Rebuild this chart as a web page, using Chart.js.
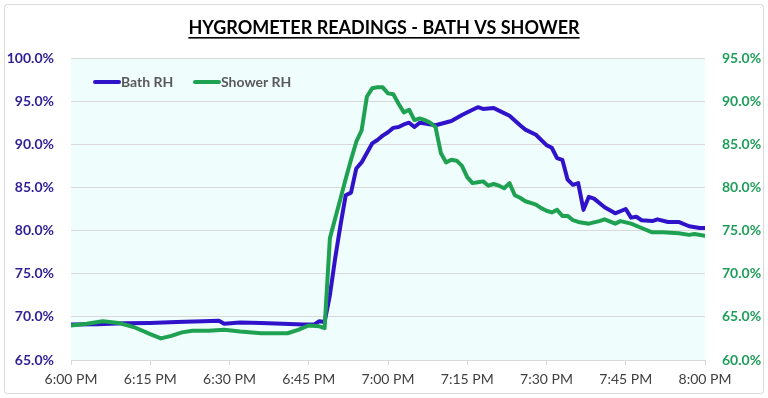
<!DOCTYPE html>
<html>
<head>
<meta charset="utf-8">
<title>Hygrometer readings - bath vs shower</title>
<script src="https://cdn.jsdelivr.net/npm/chart.js@4.4.1/dist/chart.umd.min.js"></script>
<style>
    html, body { margin: 0; padding: 0; background: #fff; }
    #wrap { width: 768px; height: 398px; }
</style>
</head>
<body>
<div id="wrap"><canvas id="chart" width="768" height="398"></canvas></div>
<script>
/* ---- Data (minutes after 6:00 PM, relative humidity %) ---- */
const bathMinutes = [0, 5, 10, 15, 20, 25, 28, 29, 32, 36, 40, 44, 46, 47, 48,
    49, 50, 51, 52, 53, 54, 55, 56, 57, 58, 59, 60, 61, 62, 63, 64, 65, 66, 67,
    69, 72, 74, 76, 77, 78, 80, 81, 83, 85, 86, 88, 90, 91, 92,
    93, 94, 95, 96, 97, 98, 99, 101, 103, 105, 106, 107, 108, 110, 111, 113, 115, 117, 119, 120];
const bathRH = [69.1, 69.15, 69.25, 69.3, 69.4, 69.5, 69.55, 69.2, 69.35, 69.3, 69.2, 69.1, 69.1, 69.5, 69.4,
    72.5, 76.8, 80.6, 84.1, 84.4, 87.2, 87.9, 89.0, 90.1, 90.5, 91.0, 91.4, 91.9, 92.0, 92.3, 92.5, 92.0, 92.5, 92.4,
    92.2, 92.7, 93.4, 94.0, 94.3, 94.1, 94.2, 93.9, 93.3, 92.2, 91.7, 91.1, 89.9, 89.6, 88.4,
    88.2, 85.9, 85.3, 85.5, 82.4, 83.9, 83.7, 82.7, 82.0, 82.5, 81.5, 81.6, 81.2, 81.1, 81.3, 81.0, 81.0, 80.5, 80.3, 80.3];

const showerMinutes = [0, 3, 6, 9, 12, 15, 17, 19, 21, 23, 26, 29, 32, 36, 41, 43, 45, 47, 48,
    49, 50, 51, 52, 53, 54, 55, 56, 57, 58, 59, 60, 61, 62, 63, 64, 65, 66, 67, 68, 69,
    70, 71, 72, 73, 74, 75, 76, 77, 78, 79, 80, 81, 82, 83, 84, 85, 86, 87, 88, 89, 90, 91, 92, 93, 94, 95, 96,
    98, 100, 101, 103, 104, 106, 108, 110, 112, 115, 117, 118, 120];
const showerRH = [64.0, 64.2, 64.5, 64.3, 63.8, 63.0, 62.5, 62.8, 63.2, 63.4, 63.4, 63.5, 63.3, 63.1, 63.1, 63.5, 64.0, 63.9, 63.7,
    74.1, 76.4, 78.7, 81.0, 83.2, 85.3, 86.6, 90.5, 91.5, 91.6, 91.6, 90.9, 90.8, 89.7, 88.7, 89.0, 87.8, 88.0, 87.8, 87.5, 87.0,
    84.0, 82.9, 83.2, 83.1, 82.5, 81.2, 80.5, 80.6, 80.7, 80.2, 80.4, 80.2, 79.9, 80.5, 79.1, 78.8, 78.4, 78.2, 78.0, 77.6, 77.3, 77.1, 77.4, 76.7, 76.7, 76.2, 76.0,
    75.8, 76.1, 76.3, 75.8, 76.1, 75.8, 75.3, 74.8, 74.8, 74.7, 74.5, 74.6, 74.4];

const xTickMinutes = [0, 15, 30, 45, 60, 75, 90, 105, 120];
const xTickLabels = ['6:00 PM', '6:15 PM', '6:30 PM', '6:45 PM', '7:00 PM', '7:15 PM', '7:30 PM', '7:45 PM', '8:00 PM'];
const leftTicks = [65, 70, 75, 80, 85, 90, 95, 100];
const rightTicks = [60, 65, 70, 75, 80, 85, 90, 95];

const chartTitle = 'HYGROMETER READINGS - BATH VS SHOWER';
const BATH_COLOR = '#3012CB';
const SHOWER_COLOR = '#1FA152';
const FONT = 'Lato';

/* ---- Background, frame, title and in-plot legend ---- */
const decor = {
    id: 'decor',
    beforeDraw(chart) {
        const { ctx, chartArea: a } = chart;
        ctx.save();
        ctx.fillStyle = '#fff';
        ctx.fillRect(0, 0, chart.width, chart.height);
        ctx.fillStyle = '#EFFDFD';
        ctx.fillRect(a.left, a.top, a.right - a.left, a.bottom - a.top);

        ctx.strokeStyle = '#D9D9D9';
        ctx.lineWidth = 1;
        ctx.beginPath();
        ctx.roundRect(4.5, 4.5, chart.width - 9, chart.height - 9, 3);
        ctx.stroke();

        // title, underlined like the Excel original
        ctx.font = `bold 18px ${FONT}`;
        ctx.fillStyle = '#000';
        ctx.textAlign = 'center';
        ctx.textBaseline = 'alphabetic';
        ctx.fillText(chartTitle, chart.width / 2, 34);
        const w = ctx.measureText(chartTitle).width;
        ctx.fillRect(chart.width / 2 - w / 2, 37, w, 1.6);
        ctx.restore();
    },
    afterDatasetsDraw(chart) {
        const { ctx } = chart;
        const items = [
            { x: 95, ds: chart.data.datasets[0] },
            { x: 195, ds: chart.data.datasets[1] }
        ];
        ctx.save();
        ctx.font = `bold 14px ${FONT}`;
        ctx.textBaseline = 'middle';
        ctx.textAlign = 'left';
        items.forEach(it => {
            ctx.strokeStyle = it.ds.borderColor;
            ctx.lineWidth = 4;
            ctx.lineCap = 'round';
            ctx.beginPath();
            ctx.moveTo(it.x, 82);
            ctx.lineTo(it.x + 24, 82);
            ctx.stroke();
            ctx.fillStyle = '#595959';
            ctx.fillText(it.ds.label, it.x + 26, 82);
        });
        ctx.restore();
    }
};

function toPoints(xs, ys) {
    return xs.map((x, i) => ({ x: x, y: ys[i] }));
}

new Chart(document.getElementById('chart'), {
    type: 'line',
    data: {
        datasets: [
            {
                label: 'Bath RH',
                data: toPoints(bathMinutes, bathRH),
                yAxisID: 'y',
                borderColor: BATH_COLOR,
                backgroundColor: BATH_COLOR,
                borderWidth: 4,
                pointRadius: 0,
                borderJoinStyle: 'round',
                borderCapStyle: 'round',
                order: 1
            },
            {
                label: 'Shower RH',
                data: toPoints(showerMinutes, showerRH),
                yAxisID: 'y2',
                borderColor: SHOWER_COLOR,
                backgroundColor: SHOWER_COLOR,
                borderWidth: 4,
                pointRadius: 0,
                borderJoinStyle: 'round',
                borderCapStyle: 'round',
                order: 0
            }
        ]
    },
    options: {
        responsive: false,
        animation: false,
        layout: { padding: { top: 58, left: 0, right: 0, bottom: 0 } },
        plugins: {
            legend: { display: false },
            title: { display: false },
            tooltip: { enabled: false }
        },
        scales: {
            x: {
                type: 'linear',
                min: 0, max: 120,
                afterBuildTicks: axis => { axis.ticks = xTickMinutes.map(v => ({ value: v })); },
                ticks: {
                    callback: v => xTickLabels[xTickMinutes.indexOf(v)],
                    color: '#404040',
                    font: { family: FONT, size: 14 },
                    padding: 6,
                    maxRotation: 0,
                    autoSkip: false
                },
                grid: { drawOnChartArea: false, drawTicks: true, tickLength: 5, color: '#D9D9D9' },
                border: { color: '#D9D9D9' },
                afterFit: s => { s.height = 38; }
            },
            y: {
                position: 'left',
                min: 65, max: 100,
                afterBuildTicks: axis => { axis.ticks = leftTicks.map(v => ({ value: v })); },
                ticks: {
                    callback: v => v.toFixed(1) + '%',
                    color: '#2E1F94',
                    font: { family: FONT, size: 14, weight: 'bold' },
                    padding: 17
                },
                grid: { color: '#D9D9D9', drawTicks: false },
                border: { display: false },
                afterFit: s => { s.width = 71; }
            },
            y2: {
                position: 'right',
                min: 60, max: 95,
                afterBuildTicks: axis => { axis.ticks = rightTicks.map(v => ({ value: v })); },
                ticks: {
                    callback: v => v.toFixed(1) + '%',
                    color: '#1F9E5A',
                    font: { family: FONT, size: 14, weight: 'bold' },
                    padding: 17
                },
                grid: { drawOnChartArea: false, drawTicks: false },
                border: { display: false },
                afterFit: s => { s.width = 63; }
            }
        }
    },
    plugins: [decor]
});
</script>
</body>
</html>
